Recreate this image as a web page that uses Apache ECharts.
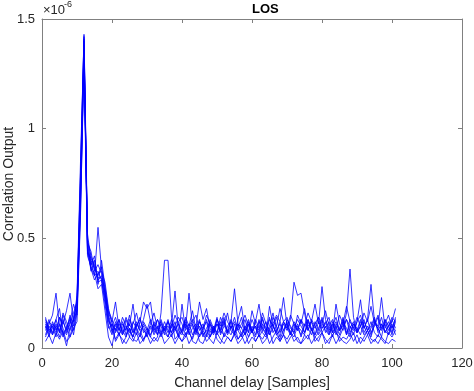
<!DOCTYPE html>
<html>
<head>
<meta charset="utf-8">
<script src="https://cdn.jsdelivr.net/npm/echarts@6/dist/echarts.min.js"></script>
<style>
html,body{margin:0;padding:0;background:#fff;}
#c{width:474px;height:391px;}
</style>
</head>
<body>
<div id="c"></div>
<script>
// Channel delay sample indices (1..101)
const delays = Array.from({length: 101}, (_, i) => i + 1);
const xTicks = [0, 20, 40, 60, 80, 100, 120];
const yTicks = [0, 0.5, 1, 1.5];   // in units of 1e-6
const titleText = 'LOS';
const xName = 'Channel delay [Samples]';
const yName = 'Correlation Output';

// Correlation output traces, units of 1e-6
const s1 = [0.12,0.08,0.10,0.05,0.14,0.09,0.06,0.11,0.16,0.21,
 0.80,1.43,0.52,0.40,0.36,0.33,0.37,0.27,0.15,0.09,
 0.04,0.07,0.02,0.05,0.09,0.04,0.03,0.06,0.03,0.08,
 0.05,0.03,0.05,0.16,0.40,0.40,0.14,0.04,0.06,0.03,
 0.05,0.08,0.03,0.02,0.06,0.07,0.03,0.05,0.09,0.04,
 0.02,0.06,0.05,0.03,0.07,0.04,0.06,0.02,0.05,0.08,
 0.03,0.06,0.04,0.07,0.02,0.05,0.08,0.03,0.06,0.04,
 0.07,0.03,0.05,0.02,0.06,0.04,0.09,0.03,0.05,0.07,
 0.04,0.02,0.06,0.08,0.03,0.05,0.04,0.07,0.03,0.06,
 0.02,0.05,0.08,0.04,0.03,0.06,0.04,0.02,0.07,0.05,
 0.08];
const s2 = [0.05,0.10,0.07,0.13,0.18,0.06,0.09,0.14,0.08,0.18,
 0.70,1.38,0.45,0.38,0.42,0.30,0.31,0.22,0.12,0.10,
 0.14,0.08,0.12,0.06,0.09,0.05,0.11,0.08,0.04,0.07,
 0.10,0.06,0.09,0.12,0.07,0.05,0.10,0.26,0.08,0.06,
 0.11,0.07,0.04,0.09,0.13,0.06,0.08,0.05,0.10,0.07,
 0.12,0.05,0.08,0.06,0.11,0.04,0.07,0.09,0.05,0.10,
 0.06,0.13,0.07,0.05,0.09,0.11,0.06,0.04,0.08,0.12,
 0.07,0.05,0.10,0.08,0.06,0.13,0.09,0.05,0.07,0.11,
 0.08,0.06,0.12,0.07,0.05,0.09,0.16,0.36,0.14,0.07,
 0.10,0.06,0.08,0.12,0.07,0.05,0.11,0.08,0.06,0.13,
 0.09];
const s3 = [0.09,0.13,0.06,0.11,0.07,0.15,0.10,0.05,0.12,0.24,
 0.85,1.41,0.48,0.44,0.35,0.38,0.34,0.25,0.16,0.12,
 0.21,0.09,0.06,0.13,0.08,0.05,0.10,0.14,0.07,0.09,
 0.05,0.12,0.08,0.06,0.10,0.07,0.13,0.09,0.05,0.08,
 0.12,0.06,0.09,0.11,0.05,0.08,0.13,0.07,0.10,0.06,
 0.09,0.14,0.07,0.12,0.27,0.11,0.06,0.09,0.13,0.07,
 0.10,0.05,0.08,0.12,0.06,0.09,0.14,0.07,0.11,0.08,
 0.13,0.30,0.24,0.25,0.16,0.08,0.12,0.06,0.09,0.13,
 0.07,0.10,0.05,0.11,0.08,0.14,0.06,0.09,0.12,0.07,
 0.10,0.13,0.08,0.05,0.11,0.09,0.14,0.07,0.10,0.06,
 0.12];
const s4 = [0.14,0.07,0.11,0.09,0.05,0.12,0.08,0.15,0.10,0.19,
 0.66,1.35,0.50,0.36,0.31,0.34,0.35,0.30,0.18,0.11,
 0.08,0.13,0.07,0.10,0.05,0.12,0.09,0.06,0.11,0.08,
 0.13,0.07,0.10,0.05,0.09,0.12,0.06,0.08,0.11,0.07,
 0.05,0.10,0.13,0.08,0.06,0.09,0.12,0.05,0.08,0.11,
 0.07,0.13,0.06,0.09,0.12,0.08,0.05,0.10,0.07,0.13,
 0.09,0.06,0.11,0.08,0.14,0.07,0.10,0.05,0.12,0.09,
 0.06,0.11,0.08,0.13,0.07,0.10,0.12,0.20,0.11,0.28,
 0.13,0.08,0.11,0.06,0.09,0.13,0.07,0.10,0.08,0.12,
 0.15,0.09,0.13,0.29,0.12,0.10,0.23,0.09,0.12,0.07,
 0.14];
const s5 = [0.06,0.11,0.15,0.25,0.10,0.07,0.01,0.09,0.13,0.17,
 0.75,1.40,0.43,0.41,0.37,0.31,0.33,0.26,0.13,0.08,
 0.11,0.06,0.09,0.14,0.10,0.20,0.08,0.05,0.12,0.09,
 0.06,0.10,0.13,0.07,0.09,0.05,0.11,0.08,0.12,0.14,
 0.09,0.25,0.10,0.06,0.12,0.08,0.05,0.11,0.07,0.13,
 0.08,0.06,0.10,0.12,0.07,0.09,0.14,0.06,0.11,0.08,
 0.05,0.12,0.09,0.07,0.13,0.10,0.06,0.08,0.12,0.14,
 0.09,0.07,0.11,0.05,0.10,0.13,0.08,0.06,0.12,0.09,
 0.11,0.14,0.07,0.10,0.06,0.12,0.09,0.05,0.11,0.08,
 0.13,0.07,0.10,0.06,0.12,0.09,0.05,0.13,0.08,0.11,
 0.06];
const s6 = [0.10,0.05,0.12,0.08,0.14,0.11,0.17,0.25,0.12,0.22,
 0.78,1.42,0.47,0.39,0.33,0.55,0.36,0.24,0.14,0.07,
 0.10,0.13,0.06,0.09,0.11,0.07,0.12,0.08,0.10,0.05,
 0.09,0.11,0.06,0.13,0.08,0.10,0.07,0.12,0.06,0.09,
 0.13,0.08,0.11,0.07,0.10,0.05,0.09,0.12,0.08,0.14,
 0.06,0.10,0.08,0.13,0.07,0.11,0.09,0.06,0.12,0.08,
 0.10,0.07,0.13,0.09,0.06,0.11,0.15,0.12,0.23,0.10,
 0.07,0.12,0.09,0.06,0.11,0.08,0.13,0.10,0.06,0.09,
 0.12,0.07,0.10,0.14,0.08,0.11,0.06,0.13,0.09,0.07,
 0.12,0.10,0.06,0.09,0.13,0.08,0.11,0.07,0.10,0.12,
 0.18];
const s7 = [0.13,0.09,0.06,0.10,0.08,0.13,0.07,0.12,0.20,0.15,
 0.68,1.33,0.46,0.35,0.40,0.29,0.40,0.28,0.17,0.13,
 0.07,0.11,0.08,0.05,0.13,0.09,0.06,0.12,0.21,0.18,
 0.21,0.09,0.06,0.11,0.08,0.13,0.07,0.10,0.05,0.20,
 0.08,0.11,0.06,0.10,0.21,0.13,0.18,0.09,0.06,0.11,
 0.08,0.12,0.07,0.10,0.06,0.13,0.19,0.08,0.11,0.07,
 0.12,0.20,0.09,0.06,0.19,0.10,0.07,0.12,0.08,0.11,
 0.06,0.09,0.13,0.10,0.07,0.12,0.08,0.11,0.14,0.07,
 0.10,0.06,0.09,0.12,0.08,0.10,0.13,0.07,0.11,0.09,
 0.06,0.12,0.08,0.10,0.14,0.07,0.09,0.11,0.06,0.10,
 0.08];
const s8 = [0.08,0.12,0.10,0.07,0.11,0.05,0.09,0.13,0.06,0.16,
 0.62,1.30,0.42,0.37,0.34,0.27,0.29,0.17,0.05,0.01,
 0.09,0.06,0.11,0.08,0.15,0.07,0.10,0.13,0.08,0.06,
 0.11,0.16,0.09,0.07,0.12,0.08,0.05,0.10,0.14,0.11,
 0.06,0.09,0.12,0.15,0.08,0.11,0.06,0.13,0.09,0.07,
 0.14,0.10,0.16,0.08,0.06,0.11,0.09,0.13,0.07,0.17,
 0.11,0.08,0.14,0.07,0.10,0.16,0.08,0.11,0.06,0.13,
 0.10,0.07,0.15,0.11,0.18,0.09,0.06,0.12,0.08,0.14,
 0.09,0.12,0.07,0.20,0.11,0.08,0.13,0.10,0.06,0.12,
 0.22,0.09,0.13,0.07,0.10,0.14,0.08,0.11,0.15,0.09,
 0.13];
const s9 = [0.11,0.06,0.09,0.13,0.07,0.16,0.12,0.08,0.14,0.20,
 0.72,1.37,0.49,0.42,0.38,0.32,0.32,0.23,0.10,0.06,
 0.12,0.08,0.14,0.10,0.07,0.11,0.16,0.09,0.13,0.20,
 0.12,0.08,0.13,0.10,0.06,0.12,0.09,0.15,0.11,0.07,
 0.14,0.10,0.17,0.08,0.12,0.09,0.15,0.11,0.07,0.13,
 0.10,0.16,0.12,0.09,0.14,0.08,0.11,0.15,0.10,0.07,
 0.13,0.09,0.16,0.11,0.08,0.14,0.10,0.18,0.12,0.09,
 0.15,0.11,0.08,0.13,0.10,0.16,0.12,0.09,0.14,0.11,
 0.17,0.10,0.13,0.08,0.15,0.11,0.19,0.12,0.09,0.14,
 0.10,0.16,0.12,0.19,0.11,0.15,0.09,0.13,0.10,0.14,
 0.12];
const s10 = [0.03,0.06,0.02,0.07,0.04,0.08,0.03,0.05,0.09,0.12,
 0.60,1.36,0.44,0.36,0.33,0.35,0.31,0.20,0.09,0.11,
 0.03,0.06,0.04,0.02,0.05,0.03,0.07,0.02,0.04,0.06,
 0.02,0.05,0.03,0.07,0.02,0.04,0.06,0.02,0.05,0.03,
 0.07,0.02,0.05,0.09,0.03,0.02,0.06,0.04,0.02,0.07,
 0.04,0.02,0.05,0.03,0.06,0.02,0.04,0.07,0.02,0.05,
 0.03,0.06,0.02,0.04,0.08,0.02,0.05,0.03,0.06,0.02,
 0.05,0.07,0.03,0.02,0.04,0.06,0.02,0.05,0.03,0.07,
 0.02,0.04,0.06,0.02,0.05,0.03,0.02,0.04,0.07,0.02,
 0.05,0.03,0.06,0.02,0.04,0.02,0.05,0.03,0.02,0.04,
 0.03];
const traces = [s1, s2, s3, s4, s5, s6, s7, s8, s9, s10];

const FONT = '"Liberation Sans", Arial, sans-serif';
const AX = '#808080';
const TXT = '#262626';

const chart = echarts.init(document.getElementById('c'), null, {renderer: 'canvas'});
const tickCommon = {show: true, inside: true, length: 4, lineStyle: {color: AX, width: 1}};
const option = {
  animation: false,
  backgroundColor: '#ffffff',
  grid: {left: 42, right: 12, top: 19, bottom: 43, containLabel: false, outerBoundsMode: 'none'},
  xAxis: [{
    type: 'value', min: xTicks[0], max: xTicks[xTicks.length - 1], interval: 20,
    position: 'bottom',
    axisLine: {show: true, onZero: false, lineStyle: {color: AX, width: 1}},
    axisTick: tickCommon,
    splitLine: {show: false},
    axisLabel: {color: TXT, fontSize: 13, fontFamily: FONT, margin: 9},
    name: xName, nameLocation: 'middle', nameGap: 28,
    nameTextStyle: {color: TXT, fontSize: 14, fontFamily: FONT}
  }, {
    type: 'value', min: xTicks[0], max: xTicks[xTicks.length - 1], interval: 20,
    position: 'top',
    axisLine: {show: true, onZero: false, lineStyle: {color: AX, width: 1}},
    axisTick: tickCommon,
    splitLine: {show: false},
    axisLabel: {show: false}
  }],
  yAxis: [{
    type: 'value', min: yTicks[0], max: yTicks[yTicks.length - 1], interval: 0.5,
    position: 'left',
    axisLine: {show: true, onZero: false, lineStyle: {color: AX, width: 1}},
    axisTick: tickCommon,
    splitLine: {show: false},
    axisLabel: {color: TXT, fontSize: 13, fontFamily: FONT, margin: 7}
  }, {
    type: 'value', min: yTicks[0], max: yTicks[yTicks.length - 1], interval: 0.5,
    position: 'right',
    axisLine: {show: true, onZero: false, lineStyle: {color: AX, width: 1}},
    axisTick: tickCommon,
    splitLine: {show: false},
    axisLabel: {show: false}
  }],
  graphic: [
    {type: 'text', left: 252, top: 3, style: {text: titleText, fill: '#000', font: 'bold 13px ' + FONT, textAlign: 'center'}},
    {type: 'text', left: 43, top: 4, style: {text: '×10', fill: TXT, font: '13px ' + FONT}},
    {type: 'text', left: 64, top: 0, style: {text: '-6', fill: TXT, font: '9px ' + FONT}},
    {type: 'text', x: 9, y: 184, rotation: Math.PI / 2,
     style: {text: yName, fill: TXT, font: '14px ' + FONT, textAlign: 'center', textVerticalAlign: 'middle'}}
  ],
  series: traces.map((t, k) => ({
    type: 'line',
    name: 'trace' + (k + 1),
    xAxisIndex: 0, yAxisIndex: 0,
    data: delays.map((d, i) => [d, t[i]]),
    showSymbol: false,
    symbol: 'none',
    lineStyle: {color: '#0000ff', width: 0.8},
    z: 2
  }))
};
chart.setOption(option);
</script>
</body>
</html>
